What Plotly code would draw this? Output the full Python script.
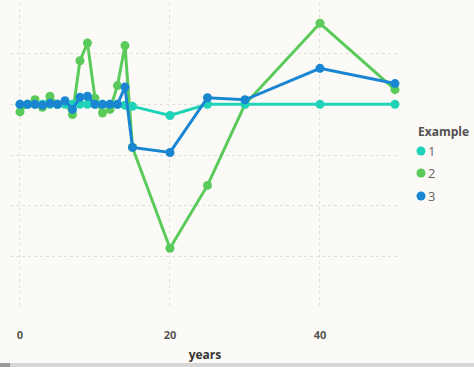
import plotly.graph_objects as go

years = [0, 1, 2, 3, 4, 5, 6, 7, 8, 9, 10, 11, 12, 13, 14, 15, 20, 25, 30, 40, 50]
series_names = ["1", "2", "3"]
s1 = [0, 0, 0, 0, 0, 0, 0, 0, 0, 0, 0, 0, 0, 0, -0.02, -0.04, -0.22, 0, 0, 0, 0]
s2 = [-0.15, 0, 0.09, -0.06, 0.16, 0, 0.02, -0.2, 0.86, 1.21, 0.12, -0.17, -0.1, 0.37, 1.16,
      -0.85, -2.84, -1.6, 0, 1.6, 0.29]
s3 = [0, 0, 0, -0.02, 0.02, 0, 0.07, -0.1, 0.14, 0.16, 0, 0, 0, 0, 0.34,
      -0.85, -0.95, 0.13, 0.09, 0.71, 0.41]
colors = ["#1FD3B8", "#5ACB5A", "#1A86D2"]
x_ticks = [0, 20, 40]
y_ticks = [-4, -3, -2, -1, 0, 1, 2]
legend_title = "Example"

W, H = 474, 367
ML, MR, MT, MB = 10, 74, 3, 60
PW, PH = W - ML - MR, H - MT - MB


def px_x(px):
    return (px - ML) / PW


def px_y(py):
    return (H - MB - py) / PH


fig = go.Figure()
data = [s1, s2, s3]
order = [1, 0, 2]
for i in order:
    fig.add_trace(go.Scatter(
        x=years, y=data[i], name=series_names[i], mode="lines+markers",
        line=dict(color=colors[i], width=3),
        marker=dict(color=colors[i], size=9),
        showlegend=False,
    ))

# custom legend (title + marker-only entries)
annotations = [dict(text=f"<b>{legend_title}</b>", xref="paper", yref="paper",
                    x=px_x(416), y=px_y(131), xanchor="left", yanchor="middle", showarrow=False,
                    font=dict(family="Open Sans", size=12, color="#505050"))]
shapes = []
item_y = [151, 173, 196]
for i in range(3):
    cx, cy, r = 421, item_y[i], 4.5
    shapes.append(dict(type="circle", xref="paper", yref="paper",
                       x0=px_x(cx - r), x1=px_x(cx + r), y0=px_y(cy + r), y1=px_y(cy - r),
                       fillcolor=colors[i], line=dict(width=0)))
    annotations.append(dict(text=series_names[i], xref="paper", yref="paper",
                            x=px_x(426), y=px_y(cy), xanchor="left", yanchor="middle", showarrow=False,
                            font=dict(family="Open Sans", size=13, color="#666666")))

shapes += [
    dict(type="rect", xref="paper", yref="paper", x0=px_x(-10), x1=px_x(480), y0=px_y(367), y1=px_y(363),
         fillcolor="#d6d6d6", line=dict(width=0), layer="above"),
    dict(type="rect", xref="paper", yref="paper", x0=px_x(-10), x1=px_x(10), y0=px_y(367), y1=px_y(363),
         fillcolor="#9a9a9a", line=dict(width=0), layer="above"),
]

bg = "#FCFAF6"
fig.update_layout(
    width=W, height=H,
    margin=dict(l=ML, r=MR, t=MT, b=MB),
    paper_bgcolor=bg, plot_bgcolor=bg,
    showlegend=False,
    xaxis=dict(
        range=[-1.33, 50.67], tickvals=x_ticks, showline=False, zeroline=False,
        showgrid=True, gridcolor="#e0e0e0", griddash="dot", gridwidth=1,
        tickfont=dict(family="Open Sans", size=11, color="#555555", weight="bold"),
        ticklabelstandoff=20,
        title=dict(text="years", standoff=9,
                   font=dict(family="Open Sans", size=12, color="#333333", weight="bold")),
    ),
    yaxis=dict(
        range=[-4, 2], tickvals=y_ticks, showticklabels=False, showline=False, zeroline=False,
        showgrid=True, gridcolor="#e0e0e0", griddash="dot", gridwidth=1,
    ),
    annotations=annotations,
    shapes=shapes,
)

fig.write_html("out.html", config={"displayModeBar": False},
               post_script="document.body.style.margin='0';document.body.style.overflow='hidden';")
